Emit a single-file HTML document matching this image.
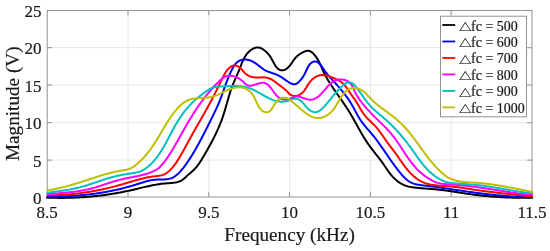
<!DOCTYPE html><html><head><meta charset="utf-8"><style>html,body{margin:0;padding:0;background:#fff;width:550px;height:251px;overflow:hidden}svg{display:block}text{font-family:"Liberation Serif","Times New Roman",serif;fill:#1a1a1a;stroke:#1a1a1a;stroke-width:0.2px}</style></head><body>
<svg width="550" height="251" viewBox="0 0 550 251">
<path d="M128.00,10.50V197.00M208.80,10.50V197.00M289.60,10.50V197.00M370.40,10.50V197.00M451.20,10.50V197.00M47.20,160.10H532.00M47.20,122.70H532.00M47.20,85.00H532.00M47.20,47.70H532.00" stroke="#e6e6e6" stroke-width="1" fill="none"/>
<rect x="47.20" y="10.50" width="484.80" height="186.50" fill="none" stroke="#939393" stroke-width="1"/>
<path d="M128.00,197.00V192.20M128.00,10.50V15.30M208.80,197.00V192.20M208.80,10.50V15.30M289.60,197.00V192.20M289.60,10.50V15.30M370.40,197.00V192.20M370.40,10.50V15.30M451.20,197.00V192.20M451.20,10.50V15.30M47.20,160.10H52.00M532.00,160.10H527.20M47.20,122.70H52.00M532.00,122.70H527.20M47.20,85.00H52.00M532.00,85.00H527.20M47.20,47.70H52.00M532.00,47.70H527.20" stroke="#939393" stroke-width="1" fill="none"/>
<g fill="none" stroke-width="2" stroke-linejoin="round" stroke-linecap="round">
<path d="M47.00,197.60 48.10,197.64 49.20,197.68 50.30,197.72 51.41,197.76 52.51,197.79 53.61,197.81 54.71,197.84 55.81,197.86 56.92,197.87 58.02,197.88 59.12,197.89 60.22,197.90 61.32,197.90 62.42,197.90 63.52,197.89 64.63,197.88 65.73,197.87 66.83,197.85 67.93,197.83 69.03,197.81 70.13,197.78 71.23,197.75 72.33,197.72 73.43,197.68 74.53,197.63 75.63,197.59 76.73,197.54 77.83,197.49 78.93,197.43 80.02,197.37 81.12,197.30 82.22,197.23 83.32,197.16 84.41,197.08 85.51,197.01 86.61,196.92 87.70,196.83 88.80,196.74 89.90,196.65 90.99,196.55 92.09,196.45 93.18,196.34 94.27,196.23 95.37,196.12 96.46,196.00 97.55,195.88 98.64,195.75 99.74,195.62 100.83,195.49 101.92,195.35 103.01,195.21 104.10,195.07 105.19,194.92 106.28,194.76 107.36,194.61 108.45,194.45 109.54,194.28 110.62,194.12 111.71,193.94 112.79,193.77 113.88,193.59 114.96,193.40 116.05,193.22 117.13,193.03 118.21,192.83 119.29,192.63 120.37,192.43 121.45,192.22 122.53,192.01 123.61,191.79 124.69,191.57 125.76,191.35 126.84,191.12 127.92,190.89 128.99,190.66 130.06,190.42 131.14,190.17 132.21,189.93 133.28,189.68 134.35,189.42 135.42,189.17 136.50,188.92 137.57,188.66 138.64,188.40 139.71,188.15 140.78,187.89 141.85,187.64 142.92,187.38 143.99,187.13 145.07,186.89 146.14,186.64 147.21,186.40 148.29,186.17 149.36,185.93 150.44,185.71 151.52,185.49 152.60,185.27 153.68,185.07 154.76,184.87 155.85,184.67 156.93,184.49 158.02,184.32 159.11,184.15 160.20,184.00 161.30,183.85 162.39,183.72 163.49,183.59 164.59,183.48 165.70,183.39 166.80,183.30 167.91,183.22 169.02,183.15 170.13,183.07 171.23,182.99 172.33,182.89 173.43,182.76 174.52,182.62 175.60,182.43 176.67,182.21 177.73,181.94 178.76,181.63 179.78,181.25 180.76,180.81 181.70,180.30 182.60,179.71 183.46,179.07 184.30,178.38 185.12,177.65 185.93,176.90 186.74,176.14 187.55,175.37 188.37,174.62 189.21,173.89 190.05,173.17 190.90,172.45 191.74,171.73 192.57,171.01 193.38,170.27 194.17,169.51 194.94,168.73 195.67,167.93 196.38,167.10 197.07,166.25 197.73,165.39 198.38,164.51 199.01,163.62 199.62,162.71 200.22,161.79 200.81,160.87 201.39,159.93 201.97,158.99 202.53,158.05 203.10,157.10 203.66,156.15 204.22,155.20 204.78,154.25 205.33,153.30 205.89,152.34 206.44,151.39 206.99,150.44 207.53,149.48 208.07,148.52 208.61,147.56 209.15,146.60 209.68,145.64 210.21,144.67 210.74,143.71 211.26,142.74 211.78,141.77 212.29,140.80 212.80,139.82 213.31,138.85 213.81,137.87 214.30,136.89 214.79,135.90 215.27,134.92 215.75,133.93 216.22,132.94 216.69,131.95 217.15,130.95 217.60,129.95 218.05,128.95 218.49,127.95 218.93,126.94 219.36,125.93 219.78,124.91 220.19,123.90 220.59,122.88 220.99,121.85 221.38,120.83 221.76,119.80 222.14,118.76 222.50,117.72 222.86,116.68 223.21,115.64 223.55,114.59 223.88,113.54 224.21,112.49 224.54,111.43 224.85,110.37 225.17,109.31 225.48,108.25 225.78,107.19 226.09,106.13 226.39,105.06 226.69,104.00 227.00,102.93 227.30,101.87 227.60,100.81 227.91,99.74 228.21,98.68 228.52,97.62 228.83,96.57 229.15,95.51 229.47,94.46 229.80,93.41 230.13,92.36 230.47,91.31 230.82,90.27 231.17,89.24 231.53,88.20 231.91,87.17 232.29,86.15 232.68,85.13 233.08,84.12 233.50,83.11 233.92,82.10 234.35,81.10 234.78,80.10 235.22,79.10 235.66,78.10 236.11,77.09 236.55,76.09 237.00,75.09 237.44,74.08 237.88,73.07 238.31,72.05 238.74,71.03 239.16,70.00 239.58,68.96 239.98,67.92 240.39,66.87 240.80,65.82 241.20,64.78 241.62,63.74 242.04,62.70 242.48,61.68 242.93,60.66 243.40,59.66 243.89,58.68 244.41,57.71 244.95,56.76 245.52,55.84 246.13,54.94 246.77,54.07 247.45,53.23 248.18,52.42 248.94,51.64 249.76,50.91 250.63,50.21 251.53,49.57 252.47,49.00 253.45,48.50 254.45,48.09 255.47,47.78 256.50,47.57 257.54,47.49 258.59,47.54 259.63,47.73 260.66,48.07 261.68,48.53 262.67,49.09 263.64,49.74 264.58,50.46 265.47,51.22 266.32,52.00 267.11,52.80 267.86,53.59 268.56,54.40 269.22,55.22 269.84,56.05 270.43,56.91 271.00,57.80 271.55,58.73 272.08,59.69 272.61,60.69 273.14,61.71 273.68,62.75 274.24,63.79 274.83,64.81 275.46,65.80 276.13,66.75 276.87,67.64 277.66,68.45 278.52,69.17 279.41,69.74 280.34,70.13 281.28,70.34 282.24,70.37 283.21,70.24 284.17,69.96 285.11,69.56 286.04,69.04 286.93,68.43 287.79,67.73 288.60,66.97 289.36,66.17 290.07,65.32 290.74,64.44 291.39,63.54 292.02,62.63 292.64,61.71 293.26,60.79 293.90,59.89 294.55,59.00 295.24,58.13 295.97,57.31 296.76,56.52 297.59,55.78 298.47,55.08 299.39,54.42 300.34,53.79 301.32,53.19 302.32,52.62 303.34,52.08 304.37,51.59 305.39,51.19 306.41,50.89 307.42,50.74 308.40,50.75 309.35,50.94 310.27,51.30 311.16,51.79 312.02,52.40 312.84,53.12 313.63,53.91 314.39,54.76 315.10,55.64 315.78,56.55 316.42,57.47 317.03,58.41 317.62,59.36 318.17,60.32 318.70,61.29 319.21,62.26 319.70,63.25 320.18,64.24 320.64,65.24 321.09,66.24 321.54,67.24 321.99,68.24 322.43,69.25 322.87,70.25 323.33,71.25 323.78,72.24 324.25,73.23 324.73,74.22 325.23,75.19 325.74,76.16 326.27,77.12 326.81,78.08 327.36,79.03 327.92,79.98 328.49,80.92 329.06,81.85 329.65,82.78 330.24,83.71 330.84,84.63 331.45,85.55 332.06,86.47 332.67,87.38 333.29,88.29 333.90,89.20 334.53,90.11 335.15,91.01 335.78,91.92 336.40,92.82 337.03,93.72 337.66,94.62 338.29,95.52 338.92,96.42 339.55,97.32 340.18,98.22 340.81,99.12 341.43,100.02 342.06,100.93 342.68,101.83 343.30,102.74 343.92,103.64 344.54,104.55 345.15,105.46 345.76,106.37 346.36,107.29 346.96,108.21 347.56,109.13 348.15,110.06 348.74,110.99 349.32,111.92 349.89,112.86 350.46,113.80 351.02,114.74 351.58,115.69 352.13,116.64 352.68,117.60 353.22,118.55 353.76,119.51 354.30,120.47 354.84,121.44 355.37,122.40 355.91,123.36 356.44,124.33 356.97,125.29 357.51,126.26 358.04,127.22 358.58,128.19 359.11,129.15 359.65,130.11 360.19,131.07 360.74,132.03 361.28,132.99 361.83,133.94 362.39,134.89 362.95,135.83 363.52,136.78 364.09,137.72 364.67,138.65 365.25,139.58 365.84,140.50 366.44,141.42 367.05,142.34 367.67,143.25 368.29,144.15 368.93,145.04 369.57,145.93 370.22,146.82 370.88,147.70 371.55,148.57 372.21,149.45 372.89,150.32 373.56,151.19 374.24,152.05 374.92,152.92 375.61,153.78 376.29,154.64 376.97,155.51 377.65,156.37 378.33,157.24 379.00,158.11 379.67,158.98 380.34,159.85 381.00,160.73 381.65,161.62 382.30,162.50 382.94,163.40 383.57,164.30 384.19,165.20 384.81,166.11 385.42,167.02 386.04,167.93 386.65,168.84 387.27,169.75 387.90,170.65 388.54,171.55 389.19,172.44 389.86,173.31 390.54,174.18 391.24,175.04 391.96,175.88 392.70,176.70 393.47,177.51 394.25,178.29 395.05,179.05 395.87,179.79 396.72,180.51 397.58,181.19 398.46,181.85 399.36,182.47 400.28,183.06 401.21,183.62 402.17,184.14 403.14,184.62 404.14,185.06 405.15,185.45 406.17,185.81 407.22,186.13 408.27,186.42 409.34,186.68 410.42,186.91 411.50,187.11 412.60,187.29 413.69,187.46 414.80,187.60 415.90,187.73 417.01,187.85 418.12,187.96 419.22,188.07 420.33,188.17 421.43,188.26 422.53,188.35 423.63,188.44 424.73,188.52 425.83,188.60 426.92,188.68 428.02,188.76 429.11,188.84 430.21,188.92 431.30,189.00 432.39,189.09 433.48,189.18 434.58,189.27 435.67,189.36 436.76,189.46 437.85,189.57 438.94,189.68 440.03,189.80 441.12,189.93 442.21,190.06 443.30,190.20 444.39,190.34 445.48,190.48 446.57,190.63 447.66,190.79 448.74,190.95 449.83,191.11 450.92,191.27 452.01,191.43 453.10,191.60 454.19,191.77 455.28,191.94 456.37,192.11 457.46,192.28 458.55,192.45 459.64,192.62 460.73,192.79 461.82,192.96 462.91,193.13 464.00,193.29 465.09,193.46 466.18,193.62 467.27,193.78 468.36,193.93 469.45,194.08 470.55,194.23 471.64,194.38 472.73,194.52 473.82,194.66 474.91,194.80 476.01,194.93 477.10,195.06 478.19,195.19 479.29,195.31 480.38,195.43 481.47,195.55 482.57,195.67 483.66,195.78 484.76,195.89 485.85,195.99 486.94,196.09 488.04,196.19 489.13,196.29 490.23,196.38 491.33,196.48 492.42,196.56 493.52,196.65 494.61,196.73 495.71,196.81 496.81,196.88 497.90,196.96 499.00,197.03 500.10,197.09 501.20,197.16 502.29,197.22 503.39,197.28 504.49,197.33 505.59,197.38 506.69,197.43 507.78,197.48 508.88,197.52 509.98,197.57 511.08,197.60 512.18,197.64 513.28,197.67 514.38,197.70 515.48,197.73 516.58,197.75 517.68,197.77 518.78,197.79 519.88,197.81 520.98,197.82 522.08,197.83 523.18,197.84 524.29,197.84 525.39,197.84 526.49,197.84 527.59,197.84 528.69,197.83 529.80,197.83 530.90,197.81 532.00,197.80" stroke="#000000"/>
<path d="M47.50,196.90 48.56,196.88 49.62,196.86 50.69,196.84 51.75,196.82 52.81,196.80 53.87,196.77 54.94,196.74 56.00,196.71 57.06,196.68 58.12,196.64 59.18,196.60 60.24,196.56 61.31,196.52 62.37,196.48 63.43,196.43 64.49,196.38 65.55,196.33 66.61,196.27 67.67,196.21 68.73,196.15 69.79,196.09 70.85,196.02 71.91,195.95 72.97,195.88 74.02,195.81 75.08,195.73 76.14,195.65 77.20,195.56 78.26,195.48 79.31,195.39 80.37,195.29 81.43,195.20 82.48,195.10 83.54,194.99 84.59,194.89 85.65,194.78 86.70,194.66 87.75,194.54 88.81,194.42 89.86,194.30 90.91,194.17 91.97,194.04 93.02,193.90 94.07,193.77 95.12,193.62 96.17,193.48 97.22,193.32 98.27,193.17 99.32,193.01 100.36,192.85 101.41,192.68 102.46,192.51 103.51,192.33 104.55,192.16 105.60,191.97 106.64,191.78 107.69,191.59 108.73,191.39 109.77,191.19 110.81,190.99 111.86,190.78 112.90,190.56 113.94,190.34 114.98,190.12 116.01,189.89 117.05,189.66 118.09,189.42 119.13,189.17 120.16,188.93 121.20,188.67 122.23,188.41 123.26,188.15 124.30,187.89 125.33,187.61 126.36,187.34 127.39,187.06 128.41,186.78 129.44,186.49 130.47,186.20 131.49,185.90 132.51,185.61 133.53,185.31 134.55,185.00 135.56,184.70 136.58,184.39 137.59,184.08 138.60,183.76 139.61,183.45 140.61,183.13 141.62,182.81 142.62,182.49 143.62,182.18 144.63,181.88 145.63,181.58 146.64,181.29 147.65,181.02 148.67,180.77 149.69,180.53 150.72,180.31 151.76,180.12 152.80,179.95 153.86,179.81 154.92,179.71 156.00,179.63 157.08,179.58 158.17,179.55 159.26,179.53 160.36,179.52 161.45,179.50 162.54,179.49 163.62,179.46 164.70,179.41 165.77,179.33 166.82,179.23 167.86,179.08 168.88,178.89 169.88,178.65 170.85,178.35 171.81,177.98 172.74,177.55 173.64,177.07 174.52,176.53 175.38,175.94 176.22,175.31 177.03,174.63 177.83,173.93 178.61,173.19 179.36,172.42 180.11,171.64 180.83,170.83 181.54,170.02 182.23,169.19 182.91,168.36 183.58,167.53 184.23,166.69 184.88,165.85 185.51,165.00 186.13,164.14 186.74,163.28 187.34,162.42 187.94,161.55 188.53,160.68 189.11,159.80 189.68,158.91 190.26,158.03 190.82,157.14 191.38,156.24 191.94,155.34 192.50,154.44 193.04,153.53 193.59,152.62 194.13,151.71 194.67,150.79 195.20,149.88 195.73,148.95 196.25,148.03 196.78,147.10 197.30,146.18 197.81,145.25 198.32,144.31 198.83,143.38 199.34,142.45 199.84,141.51 200.35,140.57 200.85,139.64 201.34,138.70 201.84,137.76 202.33,136.82 202.82,135.88 203.31,134.94 203.79,134.00 204.28,133.06 204.76,132.12 205.24,131.18 205.72,130.23 206.20,129.29 206.68,128.35 207.15,127.40 207.63,126.46 208.10,125.51 208.57,124.56 209.04,123.62 209.51,122.67 209.98,121.72 210.45,120.77 210.92,119.82 211.39,118.87 211.86,117.92 212.32,116.97 212.79,116.01 213.26,115.06 213.72,114.10 214.19,113.15 214.65,112.19 215.11,111.23 215.56,110.27 216.02,109.31 216.46,108.34 216.91,107.38 217.35,106.41 217.78,105.44 218.20,104.46 218.62,103.49 219.03,102.51 219.44,101.53 219.84,100.54 220.22,99.56 220.61,98.57 220.98,97.58 221.35,96.59 221.72,95.59 222.08,94.60 222.44,93.60 222.79,92.60 223.15,91.60 223.50,90.60 223.85,89.60 224.20,88.60 224.55,87.60 224.91,86.61 225.26,85.61 225.62,84.61 225.98,83.61 226.35,82.62 226.72,81.63 227.10,80.64 227.48,79.65 227.87,78.66 228.27,77.68 228.67,76.70 229.08,75.72 229.51,74.75 229.94,73.78 230.39,72.81 230.84,71.85 231.31,70.89 231.80,69.94 232.29,68.99 232.80,68.04 233.33,67.11 233.88,66.19 234.46,65.29 235.07,64.43 235.74,63.62 236.45,62.86 237.22,62.16 238.05,61.53 238.94,60.99 239.89,60.52 240.88,60.14 241.90,59.85 242.95,59.64 244.00,59.52 245.05,59.49 246.11,59.55 247.16,59.68 248.20,59.90 249.23,60.17 250.24,60.52 251.24,60.91 252.22,61.36 253.17,61.86 254.10,62.39 255.00,62.96 255.89,63.55 256.75,64.17 257.60,64.80 258.44,65.45 259.28,66.10 260.11,66.75 260.95,67.39 261.79,68.03 262.65,68.64 263.52,69.24 264.41,69.80 265.32,70.33 266.25,70.83 267.22,71.27 268.21,71.68 269.22,72.06 270.24,72.42 271.27,72.76 272.30,73.10 273.33,73.44 274.34,73.78 275.34,74.14 276.31,74.53 277.26,74.94 278.19,75.39 279.09,75.86 279.99,76.35 280.87,76.88 281.75,77.42 282.62,77.99 283.50,78.58 284.38,79.19 285.27,79.82 286.18,80.46 287.10,81.12 288.03,81.76 288.96,82.37 289.91,82.93 290.86,83.41 291.81,83.81 292.76,84.08 293.71,84.22 294.64,84.21 295.58,84.02 296.49,83.64 297.40,83.10 298.27,82.42 299.11,81.64 299.91,80.80 300.67,79.93 301.37,79.06 302.01,78.21 302.61,77.35 303.18,76.50 303.70,75.64 304.20,74.77 304.68,73.87 305.15,72.96 305.60,72.02 306.05,71.04 306.51,70.04 306.98,69.02 307.47,68.01 307.99,67.01 308.55,66.05 309.16,65.13 309.83,64.28 310.56,63.50 311.36,62.82 312.24,62.24 313.19,61.80 314.18,61.52 315.16,61.44 316.10,61.57 317.00,61.90 317.86,62.40 318.68,63.02 319.46,63.74 320.20,64.54 320.90,65.37 321.56,66.23 322.19,67.10 322.80,67.99 323.40,68.87 324.00,69.76 324.59,70.64 325.21,71.51 325.84,72.36 326.49,73.20 327.15,74.02 327.83,74.83 328.52,75.63 329.23,76.42 329.94,77.21 330.65,77.99 331.37,78.77 332.09,79.54 332.81,80.33 333.52,81.11 334.24,81.89 334.95,82.68 335.66,83.47 336.37,84.26 337.08,85.06 337.78,85.85 338.48,86.65 339.18,87.46 339.87,88.27 340.55,89.08 341.24,89.89 341.91,90.71 342.58,91.53 343.25,92.36 343.91,93.20 344.56,94.03 345.20,94.87 345.84,95.72 346.47,96.58 347.09,97.43 347.71,98.30 348.31,99.17 348.91,100.05 349.50,100.93 350.07,101.82 350.64,102.72 351.20,103.62 351.74,104.53 352.28,105.45 352.80,106.37 353.32,107.30 353.83,108.23 354.33,109.17 354.83,110.11 355.33,111.05 355.83,111.99 356.33,112.93 356.84,113.86 357.35,114.79 357.86,115.72 358.39,116.64 358.92,117.55 359.47,118.46 360.03,119.35 360.61,120.24 361.20,121.11 361.81,121.97 362.43,122.82 363.07,123.66 363.72,124.49 364.39,125.31 365.06,126.12 365.74,126.93 366.43,127.74 367.13,128.54 367.82,129.34 368.52,130.14 369.22,130.94 369.92,131.74 370.62,132.55 371.31,133.36 371.99,134.17 372.67,134.99 373.34,135.82 374.01,136.65 374.67,137.48 375.32,138.33 375.96,139.17 376.60,140.02 377.24,140.88 377.87,141.74 378.50,142.60 379.12,143.46 379.74,144.33 380.35,145.20 380.96,146.07 381.57,146.94 382.17,147.81 382.78,148.68 383.38,149.56 383.98,150.43 384.57,151.30 385.17,152.18 385.77,153.05 386.36,153.92 386.96,154.78 387.55,155.65 388.15,156.51 388.75,157.37 389.35,158.23 389.95,159.09 390.55,159.95 391.16,160.80 391.76,161.66 392.37,162.51 392.99,163.36 393.61,164.21 394.23,165.06 394.86,165.91 395.49,166.76 396.13,167.62 396.78,168.47 397.43,169.32 398.09,170.17 398.75,171.02 399.43,171.88 400.11,172.73 400.80,173.57 401.50,174.41 402.22,175.23 402.94,176.04 403.68,176.83 404.44,177.59 405.21,178.33 406.00,179.05 406.80,179.73 407.63,180.37 408.47,180.98 409.33,181.55 410.22,182.07 411.13,182.54 412.06,182.96 413.02,183.34 413.99,183.67 414.99,183.96 415.99,184.22 417.02,184.45 418.05,184.66 419.10,184.84 420.15,185.00 421.21,185.14 422.28,185.28 423.34,185.41 424.41,185.53 425.48,185.66 426.55,185.79 427.62,185.92 428.68,186.05 429.74,186.18 430.81,186.32 431.87,186.46 432.93,186.59 433.99,186.74 435.05,186.88 436.10,187.02 437.16,187.17 438.21,187.31 439.27,187.46 440.32,187.61 441.38,187.76 442.43,187.91 443.48,188.06 444.53,188.22 445.58,188.37 446.63,188.52 447.68,188.68 448.73,188.83 449.77,188.99 450.82,189.15 451.87,189.30 452.92,189.46 453.96,189.62 455.01,189.77 456.05,189.93 457.10,190.09 458.15,190.24 459.19,190.40 460.24,190.55 461.28,190.71 462.33,190.86 463.37,191.02 464.42,191.17 465.47,191.32 466.51,191.48 467.56,191.63 468.60,191.78 469.65,191.93 470.70,192.07 471.75,192.22 472.79,192.36 473.84,192.51 474.89,192.65 475.94,192.79 476.99,192.93 478.04,193.07 479.09,193.20 480.15,193.34 481.20,193.47 482.25,193.60 483.31,193.73 484.36,193.86 485.41,193.98 486.47,194.10 487.53,194.23 488.58,194.35 489.64,194.46 490.69,194.58 491.75,194.69 492.81,194.80 493.87,194.91 494.92,195.02 495.98,195.13 497.04,195.23 498.10,195.33 499.16,195.43 500.22,195.53 501.28,195.63 502.34,195.72 503.40,195.81 504.46,195.90 505.52,195.99 506.58,196.07 507.64,196.16 508.70,196.24 509.76,196.31 510.82,196.39 511.88,196.46 512.94,196.53 514.00,196.60 515.06,196.67 516.12,196.73 517.18,196.80 518.24,196.86 519.30,196.91 520.36,196.97 521.42,197.02 522.48,197.07 523.54,197.12 524.60,197.16 525.65,197.20 526.71,197.24 527.77,197.28 528.83,197.31 529.89,197.35 530.94,197.37 532.00,197.40" stroke="#0000ff"/>
<path d="M47.50,195.40 48.54,195.39 49.57,195.37 50.61,195.36 51.65,195.33 52.68,195.31 53.72,195.28 54.75,195.24 55.79,195.21 56.82,195.16 57.86,195.12 58.89,195.07 59.92,195.02 60.95,194.96 61.99,194.90 63.02,194.83 64.05,194.76 65.08,194.69 66.11,194.61 67.14,194.53 68.17,194.45 69.20,194.36 70.23,194.27 71.25,194.17 72.28,194.07 73.31,193.97 74.33,193.86 75.36,193.75 76.38,193.63 77.41,193.51 78.43,193.39 79.46,193.26 80.48,193.13 81.50,192.99 82.52,192.85 83.54,192.71 84.56,192.56 85.58,192.41 86.60,192.26 87.62,192.10 88.64,191.94 89.66,191.77 90.68,191.60 91.69,191.43 92.71,191.25 93.72,191.07 94.74,190.88 95.75,190.69 96.77,190.50 97.78,190.30 98.79,190.10 99.80,189.90 100.81,189.69 101.82,189.48 102.83,189.26 103.84,189.04 104.85,188.82 105.86,188.59 106.86,188.36 107.87,188.12 108.88,187.88 109.88,187.64 110.89,187.39 111.89,187.14 112.89,186.88 113.89,186.63 114.90,186.36 115.90,186.10 116.90,185.83 117.90,185.55 118.89,185.27 119.89,184.99 120.89,184.71 121.88,184.42 122.88,184.13 123.88,183.83 124.87,183.54 125.87,183.24 126.86,182.94 127.85,182.64 128.85,182.34 129.84,182.04 130.83,181.75 131.83,181.45 132.82,181.16 133.82,180.87 134.81,180.58 135.81,180.30 136.80,180.02 137.80,179.74 138.79,179.47 139.79,179.21 140.79,178.95 141.79,178.70 142.79,178.45 143.79,178.22 144.79,177.99 145.79,177.77 146.80,177.56 147.80,177.35 148.81,177.16 149.82,176.98 150.83,176.81 151.84,176.65 152.85,176.51 153.87,176.37 154.88,176.25 155.90,176.15 156.92,176.04 157.93,175.93 158.94,175.80 159.95,175.63 160.94,175.42 161.92,175.17 162.88,174.86 163.82,174.50 164.74,174.08 165.63,173.60 166.50,173.06 167.34,172.46 168.15,171.81 168.93,171.13 169.70,170.41 170.44,169.67 171.16,168.92 171.86,168.16 172.55,167.38 173.21,166.59 173.86,165.79 174.50,164.97 175.12,164.15 175.72,163.31 176.31,162.47 176.89,161.62 177.46,160.76 178.02,159.89 178.57,159.01 179.11,158.13 179.64,157.24 180.17,156.35 180.69,155.46 181.20,154.56 181.71,153.66 182.21,152.76 182.72,151.85 183.22,150.95 183.72,150.04 184.22,149.14 184.71,148.23 185.21,147.32 185.71,146.42 186.20,145.51 186.70,144.61 187.19,143.70 187.69,142.80 188.18,141.89 188.68,140.99 189.17,140.08 189.67,139.18 190.16,138.27 190.66,137.37 191.16,136.47 191.66,135.56 192.16,134.66 192.66,133.76 193.17,132.86 193.67,131.96 194.18,131.06 194.69,130.16 195.20,129.26 195.71,128.36 196.22,127.46 196.73,126.56 197.24,125.66 197.75,124.76 198.27,123.86 198.78,122.96 199.29,122.06 199.81,121.16 200.32,120.27 200.83,119.37 201.34,118.47 201.86,117.57 202.37,116.67 202.88,115.77 203.39,114.87 203.90,113.97 204.41,113.07 204.92,112.17 205.42,111.27 205.93,110.37 206.43,109.46 206.93,108.56 207.43,107.66 207.93,106.76 208.43,105.85 208.93,104.95 209.42,104.04 209.91,103.13 210.40,102.23 210.88,101.32 211.37,100.41 211.85,99.50 212.33,98.59 212.80,97.68 213.27,96.76 213.74,95.85 214.21,94.93 214.67,94.02 215.14,93.10 215.59,92.18 216.05,91.26 216.51,90.34 216.96,89.42 217.42,88.49 217.87,87.57 218.33,86.64 218.78,85.71 219.23,84.78 219.68,83.85 220.14,82.92 220.59,81.99 221.05,81.05 221.51,80.11 221.97,79.17 222.43,78.23 222.89,77.29 223.36,76.35 223.84,75.42 224.34,74.50 224.85,73.59 225.39,72.70 225.95,71.84 226.54,71.00 227.17,70.19 227.83,69.41 228.53,68.67 229.28,67.98 230.08,67.33 230.93,66.74 231.82,66.23 232.74,65.83 233.69,65.57 234.66,65.47 235.64,65.55 236.62,65.79 237.58,66.17 238.51,66.66 239.40,67.25 240.22,67.93 241.00,68.66 241.73,69.44 242.43,70.25 243.12,71.07 243.81,71.87 244.51,72.65 245.24,73.39 245.99,74.06 246.80,74.67 247.64,75.20 248.51,75.68 249.42,76.09 250.36,76.44 251.32,76.73 252.30,76.98 253.31,77.17 254.32,77.32 255.35,77.42 256.39,77.49 257.44,77.52 258.49,77.51 259.53,77.48 260.58,77.44 261.61,77.39 262.65,77.36 263.67,77.36 264.68,77.40 265.68,77.49 266.67,77.65 267.64,77.88 268.60,78.19 269.55,78.56 270.48,78.98 271.39,79.46 272.30,79.98 273.19,80.54 274.08,81.13 274.95,81.74 275.81,82.37 276.67,83.02 277.52,83.67 278.36,84.32 279.19,84.96 280.02,85.59 280.84,86.20 281.65,86.80 282.45,87.39 283.25,87.99 284.04,88.61 284.81,89.25 285.57,89.92 286.32,90.63 287.06,91.38 287.78,92.17 288.52,92.96 289.27,93.71 290.06,94.38 290.90,94.95 291.78,95.41 292.70,95.75 293.65,95.97 294.63,96.06 295.64,96.03 296.66,95.87 297.69,95.58 298.70,95.19 299.68,94.71 300.60,94.15 301.46,93.53 302.25,92.85 302.98,92.13 303.66,91.37 304.30,90.57 304.90,89.75 305.47,88.89 306.03,88.02 306.56,87.14 307.10,86.25 307.64,85.36 308.18,84.48 308.75,83.61 309.34,82.75 309.96,81.92 310.62,81.12 311.32,80.35 312.07,79.61 312.84,78.92 313.65,78.27 314.49,77.67 315.36,77.12 316.25,76.63 317.17,76.20 318.10,75.83 319.06,75.53 320.03,75.29 321.02,75.14 322.02,75.06 323.03,75.06 324.04,75.14 325.07,75.28 326.09,75.48 327.11,75.72 328.14,76.02 329.16,76.34 330.17,76.70 331.18,77.08 332.18,77.47 333.16,77.86 334.14,78.26 335.09,78.67 336.04,79.09 336.96,79.52 337.87,79.97 338.75,80.45 339.61,80.96 340.45,81.50 341.27,82.08 342.06,82.70 342.82,83.37 343.56,84.09 344.27,84.85 344.95,85.64 345.62,86.45 346.26,87.29 346.89,88.15 347.49,89.01 348.08,89.88 348.66,90.74 349.22,91.59 349.78,92.43 350.32,93.27 350.87,94.09 351.43,94.90 351.99,95.71 352.58,96.52 353.18,97.33 353.79,98.14 354.40,98.95 354.99,99.78 355.57,100.63 356.14,101.49 356.68,102.37 357.21,103.25 357.73,104.15 358.25,105.05 358.76,105.95 359.27,106.86 359.78,107.77 360.29,108.67 360.81,109.57 361.35,110.46 361.89,111.34 362.45,112.21 363.03,113.07 363.63,113.90 364.25,114.72 364.90,115.53 365.56,116.31 366.25,117.08 366.95,117.84 367.67,118.59 368.39,119.33 369.13,120.06 369.87,120.79 370.61,121.52 371.35,122.24 372.10,122.97 372.84,123.70 373.57,124.43 374.29,125.16 375.00,125.91 375.70,126.67 376.39,127.43 377.05,128.21 377.71,129.00 378.35,129.81 378.97,130.61 379.59,131.43 380.20,132.26 380.80,133.09 381.39,133.92 381.98,134.76 382.57,135.60 383.15,136.45 383.74,137.29 384.32,138.14 384.91,138.99 385.49,139.83 386.09,140.67 386.69,141.51 387.30,142.35 387.91,143.18 388.52,144.01 389.14,144.84 389.77,145.66 390.39,146.49 391.02,147.31 391.64,148.14 392.27,148.96 392.90,149.79 393.52,150.61 394.14,151.44 394.76,152.27 395.38,153.10 395.99,153.93 396.59,154.77 397.19,155.61 397.79,156.45 398.38,157.29 398.96,158.14 399.55,158.99 400.13,159.83 400.72,160.68 401.30,161.52 401.89,162.37 402.48,163.21 403.08,164.05 403.68,164.88 404.29,165.71 404.90,166.53 405.53,167.35 406.16,168.16 406.80,168.96 407.45,169.76 408.12,170.54 408.80,171.32 409.50,172.09 410.21,172.85 410.93,173.59 411.68,174.33 412.44,175.05 413.21,175.75 414.00,176.44 414.81,177.11 415.63,177.76 416.47,178.39 417.31,179.00 418.18,179.58 419.05,180.14 419.94,180.67 420.84,181.17 421.75,181.64 422.67,182.08 423.60,182.49 424.55,182.87 425.50,183.21 426.46,183.53 427.43,183.81 428.41,184.08 429.40,184.32 430.39,184.53 431.39,184.73 432.40,184.90 433.41,185.06 434.43,185.20 435.45,185.32 436.48,185.43 437.51,185.53 438.55,185.62 439.58,185.71 440.62,185.78 441.66,185.85 442.71,185.92 443.75,185.98 444.79,186.04 445.84,186.11 446.88,186.17 447.92,186.24 448.96,186.32 450.00,186.40 451.04,186.49 452.07,186.59 453.10,186.69 454.13,186.80 455.16,186.92 456.19,187.04 457.22,187.17 458.24,187.30 459.26,187.43 460.29,187.57 461.31,187.71 462.33,187.86 463.35,188.01 464.37,188.16 465.38,188.31 466.40,188.47 467.42,188.62 468.44,188.78 469.45,188.94 470.47,189.10 471.49,189.26 472.50,189.42 473.52,189.57 474.54,189.73 475.56,189.88 476.58,190.04 477.59,190.19 478.61,190.34 479.63,190.49 480.66,190.63 481.68,190.77 482.70,190.91 483.72,191.05 484.74,191.19 485.77,191.33 486.79,191.46 487.82,191.59 488.84,191.72 489.87,191.85 490.89,191.98 491.92,192.11 492.95,192.23 493.97,192.36 495.00,192.48 496.03,192.60 497.05,192.72 498.08,192.84 499.11,192.96 500.14,193.07 501.17,193.19 502.19,193.30 503.22,193.42 504.25,193.53 505.28,193.64 506.31,193.75 507.34,193.86 508.37,193.97 509.40,194.08 510.43,194.19 511.46,194.29 512.48,194.40 513.51,194.51 514.54,194.61 515.57,194.72 516.60,194.83 517.63,194.93 518.66,195.04 519.68,195.14 520.71,195.25 521.74,195.35 522.77,195.45 523.79,195.56 524.82,195.66 525.85,195.77 526.87,195.87 527.90,195.98 528.93,196.08 529.95,196.19 530.98,196.29 532.00,196.40" stroke="#ff0000"/>
<path d="M47.50,194.40 48.49,194.29 49.49,194.18 50.49,194.08 51.49,193.97 52.49,193.87 53.49,193.78 54.49,193.68 55.50,193.59 56.50,193.49 57.50,193.40 58.51,193.31 59.52,193.22 60.52,193.12 61.53,193.03 62.54,192.94 63.54,192.84 64.55,192.75 65.56,192.65 66.56,192.55 67.57,192.45 68.58,192.34 69.58,192.23 70.59,192.12 71.60,192.01 72.60,191.89 73.60,191.77 74.61,191.64 75.61,191.51 76.61,191.37 77.61,191.23 78.61,191.08 79.60,190.92 80.60,190.76 81.59,190.59 82.58,190.42 83.57,190.24 84.56,190.05 85.55,189.85 86.53,189.64 87.52,189.43 88.50,189.20 89.47,188.97 90.45,188.73 91.42,188.48 92.39,188.22 93.36,187.95 94.33,187.67 95.30,187.39 96.26,187.10 97.22,186.81 98.18,186.51 99.14,186.20 100.10,185.90 101.06,185.59 102.02,185.27 102.98,184.96 103.94,184.64 104.89,184.32 105.85,184.01 106.81,183.69 107.77,183.37 108.73,183.06 109.69,182.75 110.65,182.44 111.61,182.13 112.57,181.83 113.54,181.54 114.51,181.25 115.47,180.96 116.44,180.69 117.42,180.42 118.39,180.15 119.37,179.90 120.35,179.65 121.33,179.42 122.31,179.19 123.30,178.97 124.29,178.76 125.28,178.55 126.27,178.35 127.26,178.15 128.26,177.95 129.25,177.76 130.24,177.57 131.24,177.38 132.23,177.19 133.22,176.99 134.22,176.80 135.21,176.60 136.20,176.40 137.19,176.20 138.17,175.99 139.16,175.77 140.14,175.55 141.12,175.31 142.10,175.07 143.07,174.82 144.04,174.56 145.01,174.29 145.97,174.01 146.93,173.71 147.88,173.40 148.83,173.08 149.78,172.74 150.71,172.38 151.65,172.00 152.57,171.61 153.49,171.19 154.39,170.75 155.28,170.29 156.15,169.79 157.00,169.26 157.82,168.69 158.62,168.09 159.38,167.45 160.12,166.76 160.82,166.03 161.50,165.28 162.16,164.50 162.81,163.73 163.45,162.94 164.08,162.15 164.70,161.35 165.31,160.55 165.91,159.74 166.50,158.92 167.08,158.11 167.66,157.28 168.22,156.45 168.78,155.62 169.34,154.78 169.88,153.94 170.42,153.10 170.96,152.25 171.49,151.40 172.01,150.54 172.53,149.69 173.05,148.83 173.56,147.96 174.07,147.10 174.57,146.23 175.07,145.36 175.57,144.49 176.07,143.62 176.56,142.74 177.06,141.87 177.55,140.99 178.04,140.12 178.53,139.24 179.02,138.36 179.52,137.48 180.01,136.61 180.50,135.73 180.99,134.85 181.48,133.97 181.98,133.09 182.47,132.22 182.97,131.34 183.46,130.46 183.96,129.58 184.46,128.71 184.96,127.83 185.46,126.96 185.96,126.08 186.46,125.21 186.97,124.34 187.47,123.47 187.98,122.60 188.49,121.73 189.01,120.86 189.52,120.00 190.04,119.13 190.56,118.27 191.08,117.41 191.61,116.55 192.14,115.69 192.67,114.84 193.20,113.99 193.74,113.13 194.28,112.29 194.82,111.44 195.37,110.60 195.92,109.75 196.48,108.91 197.04,108.08 197.60,107.24 198.17,106.41 198.74,105.58 199.32,104.76 199.90,103.94 200.48,103.12 201.07,102.30 201.66,101.49 202.26,100.68 202.87,99.87 203.48,99.07 204.09,98.27 204.71,97.48 205.33,96.69 205.96,95.90 206.59,95.12 207.23,94.34 207.87,93.56 208.51,92.79 209.17,92.02 209.82,91.25 210.49,90.49 211.15,89.74 211.82,88.99 212.50,88.24 213.18,87.50 213.87,86.76 214.56,86.02 215.26,85.29 215.96,84.57 216.67,83.85 217.38,83.13 218.10,82.42 218.82,81.72 219.55,81.01 220.28,80.32 221.02,79.63 221.78,78.96 222.55,78.33 223.34,77.74 224.17,77.20 225.03,76.74 225.93,76.36 226.88,76.07 227.87,75.89 228.89,75.79 229.93,75.77 230.98,75.82 232.02,75.94 233.03,76.12 234.02,76.35 234.98,76.63 235.91,76.95 236.82,77.33 237.70,77.76 238.57,78.24 239.41,78.76 240.23,79.33 241.04,79.94 241.83,80.60 242.61,81.31 243.38,82.03 244.15,82.76 244.92,83.46 245.70,84.11 246.50,84.68 247.31,85.15 248.16,85.49 249.04,85.69 249.94,85.76 250.87,85.71 251.82,85.57 252.79,85.35 253.78,85.08 254.77,84.76 255.76,84.42 256.76,84.07 257.76,83.73 258.75,83.43 259.74,83.16 260.71,82.95 261.67,82.80 262.61,82.73 263.54,82.76 264.43,82.90 265.31,83.15 266.15,83.53 266.97,84.03 267.76,84.62 268.51,85.30 269.24,86.04 269.94,86.82 270.62,87.64 271.27,88.49 271.91,89.35 272.54,90.23 273.16,91.11 273.79,91.98 274.41,92.84 275.05,93.68 275.70,94.50 276.36,95.27 277.06,96.01 277.78,96.69 278.53,97.32 279.33,97.88 280.16,98.37 281.03,98.79 281.92,99.13 282.85,99.39 283.79,99.57 284.75,99.68 285.72,99.70 286.70,99.64 287.67,99.49 288.65,99.25 289.62,98.93 290.58,98.54 291.54,98.13 292.50,97.71 293.45,97.31 294.41,96.97 295.36,96.71 296.33,96.56 297.29,96.53 298.26,96.61 299.23,96.77 300.21,97.00 301.19,97.28 302.17,97.61 303.16,97.95 304.15,98.30 305.15,98.64 306.14,98.96 307.14,99.23 308.13,99.46 309.12,99.62 310.11,99.70 311.08,99.70 312.05,99.58 313.01,99.36 313.94,99.04 314.86,98.65 315.75,98.19 316.60,97.68 317.43,97.13 318.22,96.55 318.99,95.93 319.74,95.28 320.47,94.61 321.18,93.90 321.87,93.18 322.56,92.44 323.23,91.68 323.90,90.91 324.56,90.13 325.22,89.34 325.89,88.55 326.56,87.76 327.24,86.97 327.92,86.19 328.62,85.43 329.34,84.69 330.07,83.98 330.83,83.30 331.60,82.66 332.41,82.06 333.24,81.52 334.10,81.03 334.99,80.60 335.92,80.25 336.88,79.95 337.86,79.73 338.85,79.57 339.86,79.48 340.87,79.46 341.88,79.50 342.88,79.61 343.87,79.79 344.84,80.03 345.78,80.34 346.70,80.72 347.58,81.16 348.42,81.67 349.21,82.25 349.95,82.89 350.62,83.61 351.24,84.38 351.79,85.22 352.30,86.10 352.77,87.02 353.21,87.96 353.63,88.92 354.04,89.89 354.46,90.85 354.89,91.79 355.34,92.70 355.81,93.59 356.30,94.47 356.80,95.33 357.31,96.19 357.84,97.04 358.38,97.88 358.94,98.71 359.50,99.53 360.08,100.35 360.66,101.16 361.26,101.96 361.87,102.76 362.48,103.55 363.11,104.33 363.74,105.11 364.38,105.88 365.03,106.65 365.69,107.41 366.36,108.17 367.03,108.92 367.71,109.67 368.39,110.41 369.08,111.15 369.78,111.88 370.48,112.61 371.18,113.34 371.89,114.07 372.60,114.79 373.31,115.50 374.03,116.22 374.75,116.93 375.47,117.64 376.20,118.35 376.92,119.05 377.65,119.76 378.37,120.46 379.10,121.16 379.82,121.87 380.55,122.57 381.27,123.27 381.99,123.98 382.71,124.69 383.42,125.40 384.13,126.11 384.84,126.82 385.54,127.54 386.24,128.26 386.94,128.99 387.62,129.72 388.31,130.46 388.98,131.20 389.65,131.95 390.31,132.70 390.96,133.46 391.61,134.23 392.24,135.01 392.87,135.80 393.49,136.59 394.10,137.39 394.70,138.19 395.30,139.00 395.89,139.82 396.48,140.64 397.06,141.46 397.63,142.29 398.20,143.13 398.77,143.96 399.34,144.80 399.90,145.65 400.46,146.49 401.01,147.34 401.57,148.18 402.12,149.03 402.68,149.88 403.23,150.73 403.78,151.57 404.34,152.42 404.90,153.26 405.45,154.11 406.01,154.95 406.58,155.79 407.15,156.62 407.72,157.45 408.29,158.28 408.87,159.10 409.46,159.92 410.05,160.74 410.65,161.54 411.26,162.34 411.87,163.14 412.49,163.93 413.12,164.71 413.76,165.48 414.41,166.24 415.07,167.00 415.74,167.74 416.42,168.48 417.12,169.20 417.82,169.92 418.54,170.62 419.27,171.32 420.01,172.00 420.77,172.67 421.54,173.33 422.32,173.97 423.11,174.60 423.92,175.23 424.73,175.83 425.55,176.43 426.38,177.01 427.22,177.59 428.07,178.14 428.92,178.69 429.79,179.22 430.66,179.73 431.54,180.22 432.43,180.68 433.33,181.13 434.24,181.54 435.16,181.92 436.09,182.28 437.03,182.60 437.99,182.88 438.95,183.13 439.93,183.34 440.91,183.52 441.91,183.67 442.91,183.81 443.91,183.92 444.92,184.02 445.94,184.10 446.95,184.18 447.97,184.25 448.99,184.31 450.01,184.38 451.02,184.46 452.03,184.53 453.04,184.60 454.06,184.68 455.06,184.76 456.07,184.84 457.08,184.93 458.09,185.01 459.09,185.10 460.10,185.19 461.10,185.29 462.10,185.38 463.10,185.48 464.11,185.58 465.11,185.68 466.11,185.79 467.11,185.89 468.10,186.00 469.10,186.12 470.10,186.23 471.10,186.35 472.10,186.47 473.09,186.60 474.09,186.72 475.09,186.85 476.08,186.98 477.08,187.12 478.08,187.26 479.07,187.40 480.07,187.54 481.07,187.68 482.06,187.83 483.06,187.98 484.05,188.13 485.05,188.28 486.05,188.44 487.04,188.59 488.04,188.75 489.04,188.91 490.03,189.07 491.03,189.23 492.02,189.39 493.02,189.55 494.02,189.71 495.01,189.88 496.01,190.04 497.01,190.20 498.00,190.36 499.00,190.52 500.00,190.69 500.99,190.85 501.99,191.01 502.99,191.17 503.99,191.33 504.98,191.48 505.98,191.64 506.98,191.80 507.98,191.95 508.98,192.10 509.97,192.25 510.97,192.40 511.97,192.54 512.97,192.69 513.97,192.83 514.97,192.97 515.97,193.10 516.97,193.24 517.97,193.37 518.97,193.49 519.97,193.62 520.97,193.74 521.97,193.86 522.97,193.97 523.98,194.08 524.98,194.18 525.98,194.29 526.98,194.38 527.99,194.48 528.99,194.56 529.99,194.65 531.00,194.73 532.00,194.80" stroke="#ff00ff"/>
<path d="M47.50,192.80 48.47,192.66 49.45,192.51 50.43,192.37 51.41,192.24 52.38,192.10 53.36,191.96 54.35,191.83 55.33,191.69 56.31,191.56 57.29,191.42 58.28,191.28 59.26,191.14 60.24,191.00 61.23,190.86 62.21,190.72 63.19,190.57 64.18,190.42 65.16,190.27 66.14,190.11 67.12,189.95 68.10,189.79 69.08,189.62 70.06,189.45 71.03,189.27 72.01,189.08 72.98,188.89 73.96,188.69 74.93,188.49 75.90,188.28 76.86,188.06 77.83,187.84 78.79,187.60 79.75,187.36 80.71,187.11 81.66,186.85 82.62,186.59 83.57,186.31 84.52,186.03 85.47,185.75 86.41,185.46 87.36,185.16 88.30,184.86 89.24,184.55 90.18,184.24 91.12,183.92 92.06,183.61 93.00,183.29 93.94,182.97 94.88,182.65 95.81,182.33 96.75,182.00 97.69,181.68 98.63,181.36 99.57,181.04 100.50,180.72 101.44,180.40 102.38,180.09 103.33,179.78 104.27,179.47 105.21,179.17 106.15,178.88 107.10,178.58 108.05,178.30 109.00,178.02 109.95,177.74 110.90,177.48 111.86,177.22 112.82,176.97 113.77,176.72 114.74,176.49 115.70,176.26 116.66,176.03 117.63,175.81 118.60,175.60 119.57,175.40 120.54,175.20 121.52,175.01 122.49,174.82 123.47,174.64 124.45,174.47 125.42,174.30 126.41,174.13 127.39,173.97 128.37,173.82 129.36,173.67 130.35,173.53 131.33,173.39 132.32,173.25 133.30,173.10 134.28,172.95 135.26,172.77 136.23,172.58 137.19,172.35 138.14,172.10 139.07,171.82 140.00,171.49 140.91,171.12 141.81,170.71 142.69,170.26 143.56,169.78 144.41,169.27 145.25,168.72 146.07,168.14 146.88,167.54 147.67,166.92 148.45,166.28 149.21,165.62 149.95,164.95 150.68,164.26 151.40,163.57 152.10,162.86 152.79,162.14 153.46,161.42 154.11,160.68 154.76,159.93 155.39,159.18 156.01,158.41 156.62,157.64 157.22,156.86 157.80,156.07 158.38,155.27 158.95,154.47 159.50,153.66 160.05,152.84 160.59,152.02 161.12,151.19 161.64,150.36 162.16,149.52 162.66,148.67 163.17,147.82 163.66,146.97 164.15,146.11 164.64,145.25 165.12,144.38 165.60,143.51 166.07,142.64 166.54,141.77 167.01,140.89 167.47,140.01 167.94,139.14 168.40,138.25 168.86,137.37 169.32,136.49 169.78,135.61 170.24,134.72 170.70,133.84 171.16,132.96 171.63,132.08 172.09,131.20 172.56,130.32 173.04,129.44 173.51,128.57 173.99,127.69 174.48,126.83 174.96,125.96 175.46,125.10 175.96,124.24 176.46,123.38 176.97,122.53 177.49,121.68 178.01,120.84 178.54,120.00 179.08,119.16 179.62,118.33 180.17,117.51 180.72,116.69 181.28,115.87 181.85,115.06 182.42,114.26 183.00,113.46 183.59,112.67 184.19,111.88 184.79,111.10 185.40,110.33 186.02,109.56 186.65,108.80 187.28,108.05 187.92,107.30 188.57,106.56 189.23,105.83 189.90,105.11 190.57,104.39 191.26,103.68 191.95,102.98 192.65,102.29 193.36,101.61 194.08,100.93 194.81,100.27 195.54,99.61 196.29,98.96 197.05,98.32 197.82,97.69 198.59,97.07 199.37,96.46 200.16,95.85 200.96,95.25 201.76,94.65 202.57,94.05 203.38,93.45 204.19,92.86 205.00,92.26 205.82,91.66 206.64,91.08 207.47,90.51 208.30,89.97 209.15,89.45 210.00,88.97 210.87,88.53 211.76,88.13 212.66,87.79 213.58,87.49 214.51,87.24 215.45,87.04 216.41,86.87 217.37,86.74 218.35,86.63 219.34,86.54 220.33,86.48 221.32,86.42 222.32,86.38 223.33,86.34 224.33,86.30 225.34,86.26 226.34,86.22 227.35,86.17 228.35,86.13 229.36,86.10 230.36,86.06 231.36,86.04 232.36,86.02 233.36,86.00 234.36,86.00 235.35,86.01 236.34,86.03 237.33,86.06 238.32,86.11 239.30,86.17 240.27,86.25 241.25,86.35 242.21,86.47 243.18,86.60 244.14,86.76 245.09,86.95 246.03,87.16 246.97,87.39 247.91,87.66 248.83,87.95 249.75,88.26 250.67,88.60 251.58,88.97 252.48,89.35 253.38,89.76 254.28,90.18 255.17,90.62 256.06,91.08 256.94,91.54 257.82,92.02 258.70,92.51 259.58,93.00 260.46,93.50 261.34,94.01 262.22,94.52 263.09,95.02 263.97,95.53 264.85,96.03 265.73,96.53 266.62,97.02 267.50,97.49 268.39,97.96 269.28,98.41 270.18,98.84 271.08,99.25 271.98,99.63 272.89,99.99 273.81,100.33 274.73,100.63 275.66,100.90 276.60,101.13 277.55,101.32 278.50,101.48 279.45,101.60 280.42,101.67 281.38,101.71 282.36,101.70 283.33,101.65 284.31,101.56 285.28,101.42 286.26,101.23 287.25,101.00 288.23,100.72 289.21,100.40 290.18,100.06 291.16,99.72 292.13,99.40 293.09,99.13 294.05,98.91 295.00,98.78 295.93,98.76 296.86,98.86 297.77,99.08 298.65,99.41 299.49,99.84 300.29,100.35 301.05,100.95 301.77,101.61 302.46,102.32 303.13,103.08 303.79,103.87 304.44,104.69 305.10,105.51 305.76,106.33 306.45,107.14 307.16,107.92 307.90,108.67 308.68,109.37 309.50,110.02 310.35,110.60 311.22,111.11 312.10,111.53 313.00,111.86 313.90,112.08 314.79,112.20 315.68,112.18 316.55,112.05 317.41,111.81 318.26,111.46 319.09,111.03 319.91,110.51 320.72,109.93 321.50,109.28 322.28,108.59 323.03,107.85 323.77,107.09 324.49,106.31 325.20,105.52 325.88,104.73 326.55,103.95 327.20,103.17 327.84,102.40 328.47,101.64 329.09,100.88 329.70,100.12 330.31,99.37 330.91,98.62 331.52,97.88 332.13,97.14 332.74,96.40 333.35,95.67 333.98,94.94 334.61,94.20 335.26,93.47 335.91,92.74 336.58,92.01 337.26,91.28 337.95,90.55 338.65,89.81 339.36,89.07 340.08,88.33 340.80,87.58 341.54,86.83 342.28,86.08 343.03,85.35 343.80,84.66 344.59,84.04 345.41,83.50 346.26,83.06 347.14,82.74 348.02,82.52 348.91,82.43 349.80,82.47 350.67,82.63 351.51,82.93 352.33,83.36 353.11,83.91 353.86,84.56 354.58,85.28 355.28,86.04 355.95,86.83 356.60,87.62 357.24,88.41 357.85,89.21 358.45,90.01 359.04,90.81 359.61,91.61 360.18,92.42 360.74,93.22 361.30,94.03 361.86,94.84 362.42,95.64 362.99,96.45 363.56,97.26 364.13,98.06 364.71,98.86 365.29,99.66 365.88,100.45 366.48,101.24 367.09,102.02 367.70,102.80 368.33,103.56 368.96,104.32 369.60,105.07 370.26,105.82 370.92,106.55 371.60,107.27 372.29,107.97 372.99,108.67 373.70,109.35 374.43,110.03 375.16,110.69 375.90,111.35 376.65,112.00 377.40,112.65 378.16,113.29 378.92,113.93 379.68,114.57 380.45,115.20 381.21,115.84 381.97,116.47 382.74,117.11 383.49,117.75 384.25,118.40 385.00,119.05 385.74,119.70 386.48,120.36 387.22,121.03 387.95,121.70 388.67,122.37 389.39,123.05 390.11,123.73 390.82,124.42 391.53,125.11 392.23,125.81 392.93,126.51 393.62,127.22 394.31,127.93 395.00,128.64 395.68,129.36 396.35,130.08 397.02,130.81 397.69,131.54 398.35,132.27 399.01,133.01 399.67,133.75 400.32,134.50 400.96,135.25 401.61,136.00 402.24,136.76 402.88,137.52 403.51,138.28 404.13,139.05 404.76,139.82 405.37,140.60 405.99,141.38 406.60,142.16 407.20,142.95 407.81,143.74 408.41,144.53 409.00,145.32 409.59,146.12 410.18,146.92 410.76,147.73 411.35,148.53 411.92,149.34 412.50,150.15 413.07,150.97 413.65,151.78 414.22,152.59 414.79,153.41 415.37,154.22 415.94,155.03 416.52,155.84 417.09,156.65 417.67,157.46 418.25,158.26 418.84,159.06 419.43,159.86 420.02,160.65 420.61,161.44 421.22,162.22 421.82,163.00 422.44,163.77 423.06,164.54 423.69,165.30 424.32,166.05 424.96,166.80 425.61,167.54 426.27,168.26 426.94,168.98 427.62,169.70 428.31,170.40 429.01,171.09 429.73,171.77 430.45,172.44 431.19,173.10 431.93,173.74 432.70,174.37 433.47,175.00 434.26,175.60 435.07,176.20 435.88,176.77 436.71,177.33 437.55,177.88 438.41,178.40 439.27,178.90 440.15,179.38 441.04,179.83 441.94,180.27 442.84,180.67 443.76,181.05 444.69,181.40 445.63,181.72 446.57,182.01 447.52,182.27 448.48,182.49 449.45,182.68 450.42,182.84 451.40,182.96 452.38,183.07 453.37,183.15 454.36,183.22 455.35,183.28 456.35,183.34 457.34,183.40 458.33,183.45 459.32,183.52 460.31,183.59 461.30,183.67 462.29,183.75 463.28,183.83 464.26,183.92 465.25,184.01 466.24,184.09 467.23,184.17 468.21,184.26 469.20,184.34 470.19,184.42 471.18,184.50 472.17,184.58 473.16,184.66 474.15,184.75 475.14,184.84 476.13,184.93 477.11,185.03 478.10,185.14 479.09,185.25 480.07,185.36 481.05,185.48 482.04,185.60 483.02,185.73 484.00,185.86 484.99,185.99 485.97,186.13 486.95,186.27 487.93,186.42 488.91,186.56 489.89,186.72 490.87,186.87 491.85,187.02 492.83,187.18 493.80,187.34 494.78,187.50 495.76,187.67 496.74,187.83 497.71,188.00 498.69,188.17 499.67,188.33 500.65,188.50 501.62,188.67 502.60,188.85 503.58,189.02 504.55,189.19 505.53,189.36 506.51,189.53 507.48,189.70 508.46,189.87 509.44,190.04 510.41,190.21 511.39,190.37 512.37,190.54 513.35,190.70 514.32,190.87 515.30,191.03 516.28,191.19 517.26,191.34 518.24,191.50 519.22,191.65 520.20,191.80 521.18,191.94 522.16,192.08 523.14,192.22 524.12,192.36 525.11,192.49 526.09,192.62 527.07,192.75 528.06,192.87 529.04,192.98 530.03,193.09 531.01,193.20 532.00,193.30" stroke="#00bfbf"/>
<path d="M47.50,190.40 48.49,190.23 49.48,190.06 50.46,189.88 51.45,189.70 52.43,189.51 53.42,189.32 54.40,189.12 55.38,188.92 56.36,188.71 57.34,188.50 58.32,188.28 59.30,188.06 60.28,187.84 61.25,187.61 62.23,187.37 63.20,187.13 64.17,186.89 65.15,186.64 66.12,186.39 67.09,186.14 68.06,185.88 69.02,185.61 69.99,185.35 70.96,185.08 71.92,184.80 72.88,184.53 73.85,184.25 74.81,183.96 75.77,183.67 76.73,183.38 77.69,183.09 78.64,182.79 79.60,182.49 80.56,182.19 81.51,181.89 82.47,181.58 83.42,181.27 84.37,180.96 85.32,180.64 86.27,180.33 87.22,180.02 88.17,179.70 89.12,179.38 90.07,179.07 91.03,178.75 91.98,178.44 92.93,178.12 93.88,177.81 94.83,177.50 95.78,177.19 96.73,176.88 97.69,176.58 98.64,176.27 99.59,175.97 100.55,175.67 101.51,175.38 102.46,175.09 103.42,174.81 104.38,174.52 105.34,174.25 106.31,173.98 107.27,173.71 108.24,173.45 109.21,173.19 110.18,172.94 111.15,172.70 112.13,172.46 113.10,172.23 114.08,172.01 115.06,171.80 116.05,171.59 117.03,171.39 118.02,171.20 119.02,171.02 120.01,170.85 121.01,170.68 122.01,170.52 123.00,170.36 124.00,170.19 124.98,170.00 125.96,169.80 126.93,169.56 127.89,169.30 128.83,169.00 129.75,168.65 130.65,168.26 131.54,167.82 132.40,167.33 133.25,166.81 134.08,166.25 134.90,165.66 135.71,165.05 136.50,164.42 137.28,163.78 138.04,163.12 138.80,162.45 139.55,161.78 140.29,161.09 141.01,160.39 141.73,159.68 142.43,158.97 143.13,158.24 143.81,157.51 144.49,156.76 145.16,156.01 145.81,155.25 146.46,154.48 147.10,153.71 147.73,152.93 148.35,152.14 148.96,151.35 149.57,150.55 150.16,149.74 150.75,148.93 151.33,148.12 151.90,147.30 152.47,146.47 153.03,145.65 153.58,144.81 154.13,143.98 154.67,143.14 155.21,142.29 155.74,141.45 156.27,140.60 156.80,139.75 157.32,138.89 157.84,138.04 158.36,137.18 158.87,136.32 159.38,135.46 159.90,134.60 160.41,133.74 160.92,132.87 161.43,132.01 161.94,131.15 162.45,130.29 162.96,129.43 163.47,128.56 163.99,127.70 164.50,126.84 165.02,125.99 165.54,125.13 166.07,124.28 166.60,123.43 167.13,122.58 167.67,121.73 168.21,120.89 168.76,120.05 169.31,119.21 169.87,118.38 170.43,117.55 171.00,116.72 171.58,115.90 172.17,115.09 172.76,114.28 173.36,113.47 173.97,112.67 174.59,111.88 175.22,111.09 175.86,110.31 176.51,109.54 177.17,108.77 177.84,108.01 178.53,107.27 179.22,106.54 179.93,105.83 180.66,105.14 181.40,104.47 182.16,103.83 182.93,103.21 183.72,102.63 184.53,102.07 185.36,101.56 186.21,101.07 187.08,100.63 187.97,100.23 188.88,99.87 189.81,99.56 190.77,99.28 191.74,99.05 192.72,98.84 193.72,98.67 194.73,98.52 195.75,98.39 196.77,98.29 197.80,98.19 198.83,98.11 199.87,98.04 200.90,97.97 201.92,97.91 202.95,97.84 203.97,97.77 204.98,97.70 205.99,97.61 207.00,97.52 207.99,97.40 208.98,97.28 209.96,97.13 210.94,96.96 211.90,96.76 212.85,96.53 213.79,96.28 214.72,95.99 215.63,95.67 216.54,95.32 217.44,94.94 218.34,94.55 219.23,94.13 220.12,93.70 221.01,93.27 221.91,92.82 222.80,92.37 223.70,91.92 224.61,91.47 225.53,91.03 226.46,90.60 227.40,90.18 228.35,89.78 229.32,89.40 230.30,89.04 231.29,88.71 232.29,88.40 233.29,88.13 234.29,87.89 235.30,87.69 236.30,87.53 237.30,87.41 238.29,87.33 239.28,87.30 240.25,87.32 241.21,87.40 242.15,87.53 243.08,87.72 243.99,87.98 244.88,88.30 245.74,88.67 246.58,89.11 247.39,89.61 248.18,90.15 248.95,90.75 249.69,91.40 250.40,92.10 251.08,92.83 251.73,93.61 252.36,94.43 252.95,95.29 253.52,96.17 254.05,97.09 254.55,98.04 255.03,99.00 255.49,99.97 255.95,100.95 256.39,101.93 256.84,102.90 257.29,103.86 257.75,104.80 258.22,105.71 258.71,106.59 259.23,107.43 259.78,108.22 260.37,108.96 261.00,109.64 261.67,110.26 262.40,110.81 263.18,111.27 264.03,111.66 264.94,111.95 265.88,112.13 266.83,112.19 267.76,112.11 268.65,111.87 269.45,111.46 270.17,110.89 270.81,110.17 271.41,109.36 271.99,108.49 272.55,107.60 273.12,106.69 273.70,105.77 274.28,104.86 274.87,103.96 275.47,103.09 276.10,102.24 276.75,101.44 277.42,100.69 278.13,100.00 278.88,99.38 279.66,98.85 280.48,98.40 281.36,98.05 282.28,97.81 283.26,97.69 284.26,97.68 285.28,97.79 286.28,98.00 287.25,98.32 288.17,98.75 289.03,99.26 289.85,99.84 290.64,100.47 291.41,101.11 292.18,101.75 292.95,102.40 293.71,103.04 294.47,103.69 295.22,104.34 295.98,104.99 296.73,105.64 297.49,106.30 298.24,106.94 299.00,107.59 299.76,108.24 300.52,108.88 301.29,109.53 302.06,110.16 302.84,110.80 303.62,111.43 304.40,112.06 305.20,112.68 306.00,113.29 306.82,113.88 307.65,114.44 308.50,114.98 309.36,115.49 310.24,115.97 311.14,116.40 312.07,116.79 313.01,117.13 313.98,117.42 314.96,117.65 315.95,117.82 316.95,117.94 317.95,117.99 318.95,117.98 319.94,117.90 320.91,117.76 321.87,117.55 322.82,117.28 323.76,116.95 324.67,116.56 325.57,116.13 326.45,115.64 327.30,115.11 328.14,114.54 328.95,113.93 329.74,113.28 330.50,112.60 331.24,111.89 331.95,111.16 332.63,110.41 333.28,109.64 333.89,108.85 334.48,108.05 335.04,107.24 335.57,106.42 336.08,105.59 336.58,104.76 337.06,103.91 337.54,103.07 338.02,102.21 338.50,101.36 338.99,100.50 339.50,99.63 340.02,98.77 340.56,97.90 341.13,97.04 341.73,96.18 342.35,95.33 342.99,94.50 343.66,93.70 344.36,92.93 345.08,92.19 345.83,91.49 346.60,90.83 347.39,90.23 348.21,89.68 349.05,89.20 349.92,88.78 350.80,88.44 351.72,88.18 352.65,88.00 353.61,87.91 354.59,87.91 355.58,88.00 356.57,88.16 357.56,88.40 358.55,88.71 359.52,89.08 360.46,89.51 361.37,89.99 362.25,90.52 363.09,91.09 363.88,91.70 364.63,92.34 365.35,93.00 366.05,93.69 366.73,94.40 367.40,95.11 368.07,95.83 368.75,96.56 369.44,97.28 370.13,98.00 370.82,98.72 371.53,99.43 372.24,100.14 372.96,100.84 373.69,101.53 374.43,102.22 375.18,102.89 375.94,103.55 376.70,104.20 377.48,104.84 378.26,105.47 379.05,106.09 379.85,106.70 380.65,107.30 381.45,107.90 382.26,108.49 383.08,109.08 383.89,109.67 384.70,110.25 385.52,110.84 386.33,111.42 387.15,112.01 387.96,112.60 388.76,113.20 389.57,113.80 390.37,114.40 391.16,115.01 391.95,115.62 392.74,116.24 393.52,116.87 394.30,117.50 395.07,118.13 395.84,118.77 396.60,119.42 397.36,120.07 398.11,120.73 398.85,121.40 399.59,122.07 400.32,122.76 401.04,123.44 401.76,124.14 402.47,124.84 403.17,125.55 403.87,126.27 404.55,127.00 405.23,127.73 405.90,128.47 406.56,129.22 407.22,129.97 407.87,130.74 408.52,131.50 409.15,132.28 409.79,133.05 410.42,133.84 411.04,134.63 411.66,135.42 412.27,136.21 412.88,137.01 413.49,137.81 414.09,138.62 414.69,139.43 415.29,140.24 415.89,141.05 416.48,141.86 417.07,142.67 417.66,143.49 418.25,144.30 418.84,145.12 419.43,145.94 420.02,146.75 420.60,147.57 421.19,148.38 421.78,149.20 422.37,150.01 422.96,150.82 423.55,151.64 424.14,152.45 424.74,153.25 425.34,154.06 425.94,154.86 426.54,155.66 427.15,156.46 427.76,157.25 428.37,158.05 428.99,158.83 429.61,159.62 430.23,160.40 430.87,161.17 431.50,161.94 432.14,162.71 432.79,163.47 433.44,164.22 434.10,164.97 434.77,165.71 435.44,166.45 436.12,167.18 436.81,167.91 437.51,168.62 438.21,169.33 438.92,170.04 439.64,170.73 440.37,171.42 441.11,172.10 441.86,172.77 442.62,173.43 443.39,174.08 444.17,174.72 444.96,175.33 445.77,175.93 446.60,176.50 447.43,177.05 448.29,177.56 449.16,178.05 450.06,178.50 450.97,178.91 451.89,179.29 452.84,179.64 453.79,179.97 454.75,180.26 455.73,180.52 456.71,180.77 457.70,180.99 458.69,181.18 459.68,181.36 460.67,181.52 461.67,181.66 462.66,181.79 463.66,181.90 464.66,182.00 465.66,182.09 466.66,182.17 467.66,182.24 468.66,182.31 469.66,182.37 470.66,182.43 471.66,182.48 472.66,182.54 473.66,182.59 474.66,182.65 475.66,182.72 476.66,182.79 477.66,182.86 478.66,182.94 479.66,183.02 480.66,183.11 481.65,183.20 482.65,183.30 483.65,183.41 484.64,183.51 485.64,183.62 486.63,183.74 487.62,183.86 488.62,183.99 489.61,184.11 490.60,184.25 491.60,184.38 492.59,184.52 493.58,184.67 494.57,184.81 495.56,184.96 496.55,185.12 497.54,185.27 498.53,185.43 499.52,185.60 500.51,185.76 501.49,185.93 502.48,186.10 503.47,186.27 504.46,186.45 505.44,186.63 506.43,186.81 507.42,186.99 508.40,187.17 509.39,187.36 510.37,187.55 511.36,187.74 512.34,187.93 513.33,188.12 514.31,188.31 515.30,188.51 516.28,188.70 517.27,188.90 518.25,189.10 519.23,189.30 520.22,189.50 521.20,189.70 522.18,189.90 523.16,190.10 524.15,190.30 525.13,190.50 526.11,190.70 527.09,190.90 528.07,191.10 529.06,191.30 530.04,191.50 531.02,191.70 532.00,191.90" stroke="#bfbf00"/>
</g>
<text x="41.40" y="198.00" font-size="17" text-anchor="end" dominant-baseline="central">0</text>
<text x="41.40" y="161.10" font-size="17" text-anchor="end" dominant-baseline="central">5</text>
<text x="41.40" y="123.70" font-size="17" text-anchor="end" dominant-baseline="central">10</text>
<text x="41.40" y="86.00" font-size="17" text-anchor="end" dominant-baseline="central">15</text>
<text x="41.40" y="48.70" font-size="17" text-anchor="end" dominant-baseline="central">20</text>
<text x="41.40" y="11.50" font-size="17" text-anchor="end" dominant-baseline="central">25</text>
<text x="47.20" y="218.30" font-size="17" text-anchor="middle">8.5</text>
<text x="128.00" y="218.30" font-size="17" text-anchor="middle">9</text>
<text x="208.80" y="218.30" font-size="17" text-anchor="middle">9.5</text>
<text x="289.60" y="218.30" font-size="17" text-anchor="middle">10</text>
<text x="370.40" y="218.30" font-size="17" text-anchor="middle">10.5</text>
<text x="451.20" y="218.30" font-size="17" text-anchor="middle">11</text>
<text x="532.00" y="218.30" font-size="17" text-anchor="middle">11.5</text>
<text x="289.60" y="240.70" font-size="19.2" text-anchor="middle">Frequency (kHz)</text>
<text transform="translate(19.00,103.75) rotate(-90)" font-size="19.2" text-anchor="middle">Magnitude (V)</text>
<rect x="440.50" y="16.20" width="86.00" height="100.60" fill="#fff" stroke="#939393" stroke-width="1"/>
<path d="M442.3,25.00H455.2" stroke="#000000" stroke-width="1.8"/>
<text transform="translate(458.9,30.70) scale(1,0.84)" font-size="12.6" style="font-family:'Liberation Serif','Noto Sans CJK SC',sans-serif">△</text>
<text x="471" y="30.50" font-size="14">fc = 500</text>
<path d="M442.3,41.48H455.2" stroke="#0000ff" stroke-width="1.8"/>
<text transform="translate(458.9,47.18) scale(1,0.84)" font-size="12.6" style="font-family:'Liberation Serif','Noto Sans CJK SC',sans-serif">△</text>
<text x="471" y="46.98" font-size="14">fc = 600</text>
<path d="M442.3,57.96H455.2" stroke="#ff0000" stroke-width="1.8"/>
<text transform="translate(458.9,63.66) scale(1,0.84)" font-size="12.6" style="font-family:'Liberation Serif','Noto Sans CJK SC',sans-serif">△</text>
<text x="471" y="63.46" font-size="14">fc = 700</text>
<path d="M442.3,74.44H455.2" stroke="#ff00ff" stroke-width="1.8"/>
<text transform="translate(458.9,80.14) scale(1,0.84)" font-size="12.6" style="font-family:'Liberation Serif','Noto Sans CJK SC',sans-serif">△</text>
<text x="471" y="79.94" font-size="14">fc = 800</text>
<path d="M442.3,90.92H455.2" stroke="#00bfbf" stroke-width="1.8"/>
<text transform="translate(458.9,96.62) scale(1,0.84)" font-size="12.6" style="font-family:'Liberation Serif','Noto Sans CJK SC',sans-serif">△</text>
<text x="471" y="96.42" font-size="14">fc = 900</text>
<path d="M442.3,107.40H455.2" stroke="#bfbf00" stroke-width="1.8"/>
<text transform="translate(458.9,113.10) scale(1,0.84)" font-size="12.6" style="font-family:'Liberation Serif','Noto Sans CJK SC',sans-serif">△</text>
<text x="471" y="112.90" font-size="14">fc = 1000</text>
</svg></body></html>
